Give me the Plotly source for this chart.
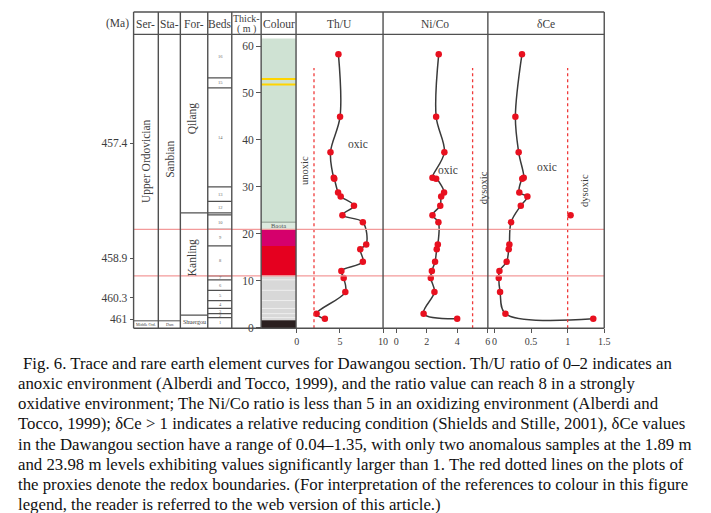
import plotly.graph_objects as go

# ==========================================
# data (depth in m above base of section)
# ==========================================
depth = [58.27, 44.95, 37.37, 31.96, 31.75, 28.8, 27.96, 26.0, 23.98, 22.48,
         17.73, 16.74, 14.06, 12.1, 10.57, 7.62, 2.99, 1.89]
th_u = [4.83, 5.02, 3.91, 4.29, 4.35, 4.79, 5.09, 6.63, 5.29, 7.66,
        8.05, 7.36, 7.66, 5.17, 5.44, 5.63, 2.30, 3.26]
ni_co = [2.78, 2.61, 3.15, 2.37, 2.61, 3.13, 2.94, 2.88, 2.37, 2.76,
         2.72, 2.65, 2.54, 2.33, 2.26, 2.50, 1.79, 3.99]
d_ce = [0.376, 0.286, 0.331, 0.40, 0.38, 0.34, 0.45, 0.36, 1.04, 0.227,
        0.204, 0.195, 0.167, 0.068, 0.059, 0.077, 0.15, 1.35]
dce_off_curve = [23.98]      # anomalous sample not joined by the curve

# redox boundaries
redox_th_u = 2
redox_ni_co = 5
redox_dce = 1
redox_top = 55.3

thick_ticks = [0, 10, 20, 30, 40, 50, 60]
age_depth = [39.3, 14.8, 6.4, 1.8]
age_text = ["457.4", "458.9", "460.3", "461"]

bed_names = ["16", "15", "14", "13", "12", "11", "10", "9", "8",
             "7", "6", "5", "4", "3", "2", "1"]
bed_tops = [62.48, 53.2, 51.1, 30.0, 26.9, 24.46, 24.04, 20.95, 17.43,
            11.05, 10.2, 7.96, 5.79, 4.1, 3.0, 2.15]

formations = ["Qilang", "Kanling", "Shuergou"]
formation_tops = [62.48, 24.46, 2.7]

colour_names = ["green", "Baota", "magenta", "red", "grey", "black"]
colour_tops = [61.6, 22.48, 20.95, 17.43, 11.05, 1.58]
yellow_bands = [53.0, 51.8]
kanling_lines = [20.95, 11.05]

caption = [
    "Fig. 6. Trace and rare earth element curves for Dawangou section. Th/U ratio of 0–2 indicates an",
    "anoxic environment (Alberdi and Tocco, 1999), and the ratio value can reach 8 in a strongly",
    "oxidative environment; The Ni/Co ratio is less than 5 in an oxidizing environment (Alberdi and",
    "Tocco, 1999); δCe > 1 indicates a relative reducing condition (Shields and Stille, 2001), δCe values",
    "in the Dawangou section have a range of 0.04–1.35, with only two anomalous samples at the 1.89 m",
    "and 23.98 m levels exhibiting values significantly larger than 1. The red dotted lines on the plots of",
    "the proxies denote the redox boundaries. (For interpretation of the references to colour in this figure",
    "legend, the reader is referred to the web version of this article.)",
]

# ==========================================
# layout helpers (pixel -> paper)
# ==========================================
W, H = 711, 513
Y_BOT, Y_TOP = -0.105, 62.48
SERIF = "Liberation Serif, DejaVu Serif, serif"
FRAME = "#505050"
TXT = "#3c3c3c"


def px(x):
    return x / W


def py(y):
    return 1 - y / H


col_x = [125, 150, 172.3, 200, 224.3, 254, 289.3, 377.3, 483.3, 601]
fill = {"green": "#cfe2d3", "Baota": "#dceadf", "magenta": "#d5006c",
        "red": "#e5001f", "grey": "#d8d8d8", "black": "#2a1f1f"}

fig = go.Figure()

# ---- curves + samples
line_style = dict(color="#3a3a3a", width=1.5, shape="spline", smoothing=1.0)
dot_style = dict(color="#e8101f", size=6.5)

fig.add_trace(go.Scatter(x=th_u, y=depth, xaxis="x", yaxis="y", mode="lines",
                         line=line_style, hoverinfo="skip"))
fig.add_trace(go.Scatter(x=ni_co, y=depth, xaxis="x2", yaxis="y", mode="lines",
                         line=line_style, hoverinfo="skip"))
dce_line_x = [v for v, d in zip(d_ce, depth) if d not in dce_off_curve]
dce_line_y = [d for d in depth if d not in dce_off_curve]
fig.add_trace(go.Scatter(x=dce_line_x, y=dce_line_y, xaxis="x3", yaxis="y", mode="lines",
                         line=line_style, hoverinfo="skip"))

fig.add_trace(go.Scatter(x=th_u, y=depth, xaxis="x", yaxis="y", mode="markers", marker=dot_style))
fig.add_trace(go.Scatter(x=ni_co, y=depth, xaxis="x2", yaxis="y", mode="markers", marker=dot_style))
fig.add_trace(go.Scatter(x=d_ce, y=depth, xaxis="x3", yaxis="y", mode="markers", marker=dot_style))

# ---- redox boundaries (red dotted)
for xa, v in [("x", redox_th_u), ("x2", redox_ni_co), ("x3", redox_dce)]:
    fig.add_trace(go.Scatter(x=[v, v], y=[Y_BOT, redox_top], xaxis=xa, yaxis="y", mode="lines",
                             line=dict(color="#f03a3a", width=1.3, dash="dot"), hoverinfo="skip"))

# dummy trace so the age axis is drawn
fig.add_trace(go.Scatter(x=[None], y=[None], xaxis="x", yaxis="y2", mode="markers"))

# ---- colour column
shapes = []
colour_bots = colour_tops[1:] + [Y_BOT]
for name, top, bot in zip(colour_names, colour_tops, colour_bots):
    shapes.append(dict(type="rect", xref="paper", yref="y", x0=px(254), x1=px(289.3),
                       y0=bot, y1=top, fillcolor=fill[name], line=dict(width=0), layer="below"))
shapes.append(dict(type="line", xref="paper", yref="y", x0=px(254), x1=px(289.3),
                   y0=colour_tops[1], y1=colour_tops[1], line=dict(color="#8a9a8e", width=1)))
for b in bed_tops[10:]:
    shapes.append(dict(type="line", xref="paper", yref="y", x0=px(254), x1=px(289.3),
                       y0=b, y1=b, line=dict(color="#eeeeee", width=1)))
for yb in yellow_bands:
    shapes.append(dict(type="line", xref="paper", yref="y", x0=px(254), x1=px(289.3),
                       y0=yb, y1=yb, line=dict(color="#ffd400", width=2)))

# ---- beds
for b in bed_tops[1:]:
    shapes.append(dict(type="line", xref="paper", yref="y", x0=px(200), x1=px(224.3),
                       y0=b, y1=b, line=dict(color=FRAME, width=1.2)))
# ---- formations
for f in formation_tops[1:]:
    shapes.append(dict(type="line", xref="paper", yref="y", x0=px(172.3), x1=px(200),
                       y0=f, y1=f, line=dict(color=FRAME, width=1.2)))
shapes.append(dict(type="line", xref="paper", yref="y", x0=px(125), x1=px(172.3),
                   y0=1.47, y1=1.47, line=dict(color=FRAME, width=1)))

# ---- Kanling red marker lines
for k in kanling_lines:
    shapes.append(dict(type="line", xref="paper", yref="y", x0=px(125), x1=px(601),
                       y0=k, y1=k, line=dict(color="#f39a9a", width=1.3)))

# ---- table frame
for cx in col_x:
    shapes.append(dict(type="line", xref="paper", yref="paper", x0=px(cx), x1=px(cx),
                       y0=py(4), y1=py(324), line=dict(color=FRAME, width=1.4)))
for ry in [4, 26.7, 324]:
    shapes.append(dict(type="line", xref="paper", yref="paper", x0=px(125), x1=px(601),
                       y0=py(ry), y1=py(ry), line=dict(color=FRAME, width=1.4)))

# ==========================================
# text
# ==========================================
ann = []


def txt(x, y, s, size=11, yref="paper", angle=0, color=TXT, xanchor="center"):
    ann.append(dict(x=px(x), y=py(y) if yref == "paper" else y, xref="paper", yref=yref,
                    text=s, showarrow=False, textangle=angle, xanchor=xanchor, yanchor="middle",
                    font=dict(family=SERIF, size=size, color=color)))


headers = [(108.5, "(Ma)"), (137.5, "Ser-"), (161.5, "Sta-"), (186.5, "For-"),
           (212.5, "Beds"), (272, "Colour"), (333, "Th/U"), (430, "Ni/Co"), (542, "δCe")]
for hx, h in headers:
    txt(hx, 16, h, 11.5)
txt(239, 10.5, "Thick-", 10)
txt(239, 21.5, "( m )", 10)

txt(137.5, 35.5, "Upper Ordovician", 11.5, yref="y", angle=-90)
txt(161.5, 35.9, "Sanbian", 11.5, yref="y", angle=-90)
form_label_y = {"Qilang": 44.7, "Kanling": 14.9, "Shuergou": 1.25}
for f in formations:
    if f == "Shuergou":
        txt(186.5, form_label_y[f], f, 6, yref="y")
    else:
        txt(184.5, form_label_y[f], f, 11.5, yref="y", angle=-90)
txt(137.5, 0.68, "Middle Ord.", 4, yref="y")
txt(161.5, 0.68, "Darr.", 4, yref="y")
txt(271.6, 21.7, "Baota", 6.5, yref="y", color="#555")

bed_bots = bed_tops[1:] + [0]
for name, top, bot in zip(bed_names, bed_tops, bed_bots):
    if top - bot > 0.7:
        txt(212.5, (top + bot) / 2, name, 4.5, yref="y", color="#666")

txt(298.3, 33.6, "unoxic", 10.5, yref="y", angle=-90)
txt(351.7, 39.2, "oxic", 11.5, yref="y")
txt(443, 33.5, "oxic", 11.5, yref="y")
txt(478.3, 29.9, "dysoxic", 10.5, yref="y", angle=-90)
txt(543.3, 34.2, "oxic", 11.5, yref="y")
txt(581, 29.2, "dysoxic", 10.5, yref="y", angle=-90)

for i, line in enumerate(caption):
    txt(11 if i == 0 else 6, 360 + 20.3 * i, line, 16.8, color="#111", xanchor="left")

# ==========================================
# axes
# ==========================================
ydom = [py(324), py(26.7)]
xcommon = dict(anchor="y", showgrid=False, zeroline=False, showline=False, ticks="outside",
               ticklen=4, tickwidth=1, tickcolor="#555",
               tickfont=dict(family=SERIF, size=10, color=TXT))

fig.update_layout(
    width=W, height=H, autosize=False,
    margin=dict(l=0, r=0, t=0, b=0, pad=0),
    paper_bgcolor="white", plot_bgcolor="rgba(0,0,0,0)",
    showlegend=False,
    xaxis=dict(domain=[px(289.3), px(377.3)], range=[-0.08, 10], tickvals=[0, 5, 10], **xcommon),
    xaxis2=dict(domain=[px(377.3), px(483.3)], range=[-0.868, 6], tickvals=[0, 2, 4, 6], **xcommon),
    xaxis3=dict(domain=[px(483.3), px(601)], range=[-0.09, 1.5], tickvals=[0, 0.5, 1, 1.5],
                ticktext=["0", "0.5", "1", "1.5"], **xcommon),
    yaxis=dict(domain=ydom, range=[Y_BOT, Y_TOP], anchor="free", position=px(254),
               tickvals=thick_ticks, ticks="outside", ticklen=5, tickcolor="#555",
               showgrid=False, zeroline=False, showline=False,
               tickfont=dict(family=SERIF, size=11.5, color=TXT)),
    yaxis2=dict(domain=ydom, range=[Y_BOT, Y_TOP], overlaying="y", anchor="free", position=px(125),
                tickvals=age_depth, ticktext=age_text, ticks="outside", ticklen=4, tickcolor="#555",
                showgrid=False, zeroline=False, showline=False,
                tickfont=dict(family=SERIF, size=11.5, color=TXT)),
    shapes=shapes,
    annotations=ann,
)

fig.write_html("out.html")
